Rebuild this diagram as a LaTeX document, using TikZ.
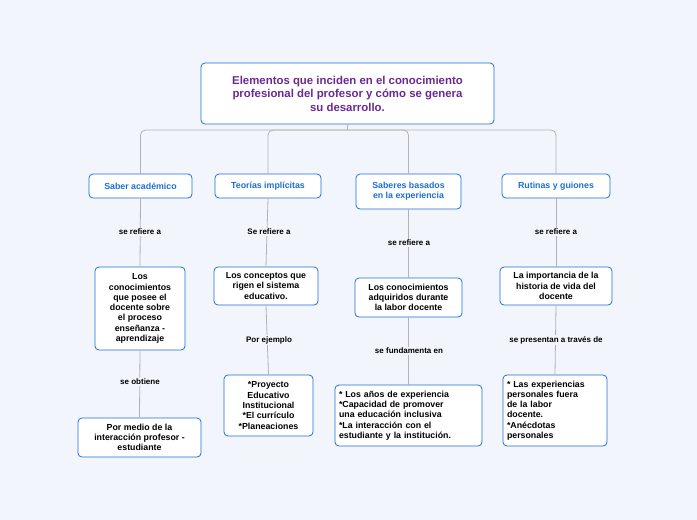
\documentclass[tikz,border=0pt]{standalone}
\usepackage{fontspec}
\setmainfont{Liberation Sans}
\begin{document}
\begin{tikzpicture}[x=1pt,y=-1pt,
  bx/.style={draw=bluec,fill=white,rounded corners=4pt,line width=0.8pt,font=\bfseries\fontsize{8.8}{10.3}\selectfont,align=center,inner sep=2pt},
  lvl/.style={bx,text=bluec},
  lab/.style={fill=bgc,font=\bfseries\fontsize{8}{9}\selectfont,inner sep=1.5pt},
  ln/.style={draw=gray!60,line width=0.8pt}]
\definecolor{bgc}{HTML}{F2F6FC}
\definecolor{bluec}{HTML}{1C6FD8}
\definecolor{purp}{HTML}{6A2A92}
\fill[bgc] (0,0) rectangle (697,520);
\useasboundingbox (0,0) rectangle (697,520);
\node[bx,minimum width=293pt,minimum height=61pt,text=purp,font=\bfseries\fontsize{11.4}{13.5}\selectfont] (r) at (347.5,93.5) {Elementos que inciden en el conocimiento\\profesional del profesor y cómo se genera\\su desarrollo.};
\node[lvl,minimum width=103pt,minimum height=24pt] (a1) at (140.5,186) {Saber académico};
\node[lvl,minimum width=106pt,minimum height=24pt] (b1) at (268,186) {Teorías implícitas};
\node[lvl,minimum width=105pt,minimum height=35pt] (c1) at (408.5,191.5) {Saberes basados\\en la experiencia};
\node[lvl,minimum width=108pt,minimum height=24pt] (d1) at (556,186) {Rutinas y guiones};
\node[bx,minimum width=90pt,minimum height=83pt] (a2) at (140,308.5) {Los\\conocimientos\\que posee el\\docente sobre\\el proceso\\enseñanza -\\aprendizaje};
\node[bx,minimum width=104pt,minimum height=38pt] (b2) at (266,286) {Los conceptos que\\rigen el sistema\\educativo.};
\node[bx,minimum width=107pt,minimum height=39pt] (c2) at (408.5,297.5) {Los conocimientos\\adquiridos durante\\la labor docente};
\node[bx,minimum width=112pt,minimum height=38pt] (d2) at (556,286) {La importancia de la\\historia de vida del\\docente};
\node[bx,minimum width=123pt,minimum height=39pt] (a3) at (139.5,437.5) {Por medio de la\\interacción profesor -\\estudiante};
\node[bx,minimum width=89pt,minimum height=61pt] (b3) at (268.5,405.5) {*Proyecto\\Educativo\\Institucional\\{}*El currículo\\{}*Planeaciones};
\node[bx,text width=139pt,inner xsep=4pt,minimum height=61pt,align=left] (c3) at (408.5,415.5) {* Los años de experiencia\\{}*Capacidad de promover\\una educación inclusiva\\{}*La interacción con el\\estudiante y la institución.};
\node[bx,text width=96pt,inner xsep=4pt,minimum height=71pt,align=left] (d3) at (555,410.5) {* Las experiencias\\personales fuera\\de la labor\\docente.\\{}*Anécdotas\\personales};
\coordinate (j) at (347.5,130);
\draw[ln] (r.south) -- (j);
\draw[ln,rounded corners=5pt] (a1.north) |- (j) -| (d1.north);
\draw[ln,rounded corners=5pt] (b1.north) |- (j) -| (c1.north);
\foreach \u/\v in {a1/a2,a2/a3,b1/b2,b2/b3,c1/c2,c2/c3,d1/d2,d2/d3} \draw[ln] (\u.south) -- (\v.north);
\node[lab] at (140,232) {se refiere a};
\node[lab] at (269,232) {Se refiere a};
\node[lab] at (409,243) {se refiere a};
\node[lab] at (556,232) {se refiere a};
\node[lab] at (140,382) {se obtiene};
\node[lab] at (269,340) {Por ejemplo};
\node[lab] at (409,351) {se fundamenta en};
\node[lab] at (556,340) {se presentan a través de};
\end{tikzpicture}
\end{document}
